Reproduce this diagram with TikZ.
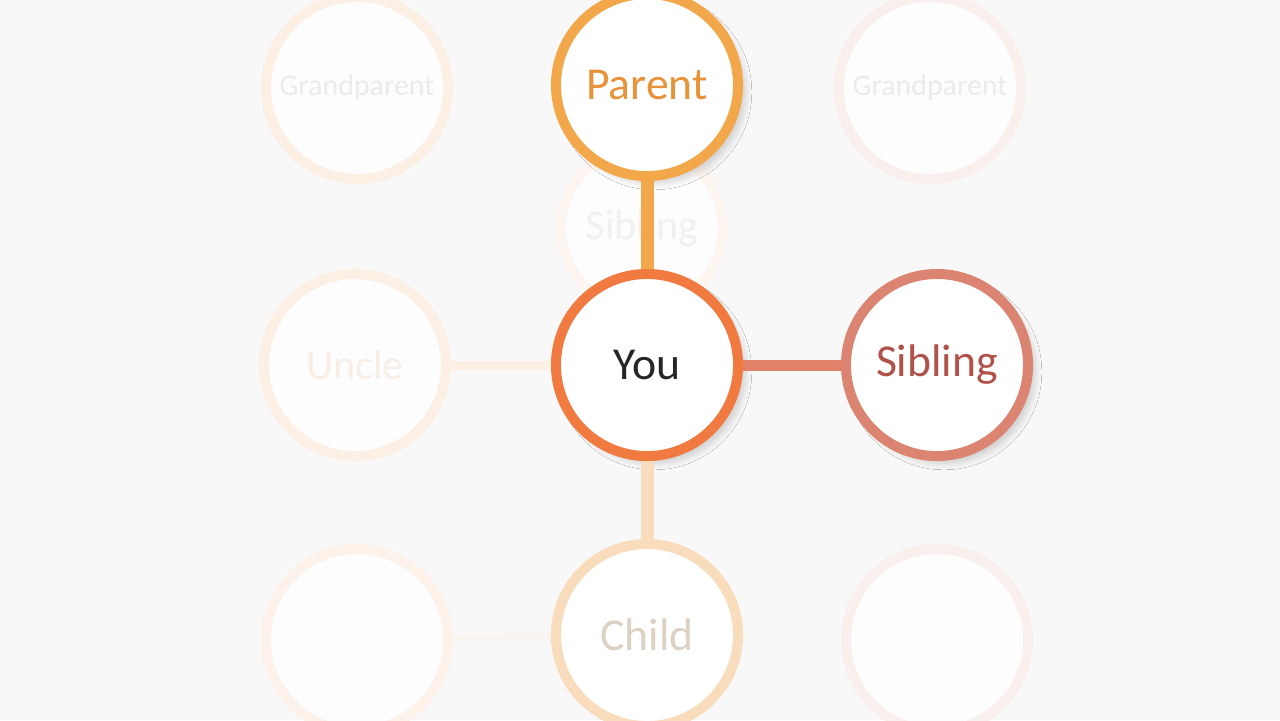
\documentclass[tikz,border=0pt]{standalone}
\usepackage{fontspec}
\setmainfont{Carlito}
\usepackage{xcolor}
\usetikzlibrary{shadows.blur}
\definecolor{canvas}{HTML}{F8F8F8}
\definecolor{parentline}{HTML}{F2A84A}
\definecolor{parenttext}{HTML}{E8923A}
\definecolor{youline}{HTML}{F07A40}
\definecolor{siblingline}{HTML}{DC8472}
\definecolor{siblingtext}{HTML}{B0524A}
\definecolor{childline}{HTML}{F8DCBC}
\definecolor{childtext}{HTML}{DDD1C4}
\definecolor{ghostline}{HTML}{FCEFE4}
\definecolor{ghostpink}{HTML}{F9F0EE}
\definecolor{ghosttext}{HTML}{ECEBEA}
\tikzset{
	member/.style={circle,draw,fill=white,line width=0.1cm,minimum size=1.82cm,inner sep=0pt,font=\fontsize{13}{15}\selectfont},%
	shadowed/.style={blur shadow={shadow xshift=0.07cm,shadow yshift=-0.07cm,shadow blur steps=10,shadow opacity=18}},%
	ghost/.style={member,fill=white!70!canvas,font=\fontsize{8.5}{10}\selectfont,text=ghosttext},%
	link/.style={line width=0.13cm},%
}

\begin{document}
\begin{tikzpicture}[x=0.01cm,y=-0.01cm]
	\fill[canvas] (0,0) rectangle (1280,720);
	\useasboundingbox (0,0) rectangle (1280,720);
	% faded relatives
	\node[ghost,draw=ghostline] (grandleft) at (357,88) {Grandparent};
	\node[ghost,draw=ghostpink] (grandright) at (930,88) {Grandparent};
	\node[ghost,draw=ghostline!60!white,minimum size=1.62cm,font=\fontsize{12}{14}\selectfont,text=ghosttext!70!white] (ghostsib) at (642,228) {Sibling};
	\node[ghost,draw=ghostline,font=\fontsize{12}{14}\selectfont,text=ghostline!70!ghosttext] (uncle) at (355,365) {Uncle};
	\node[ghost,draw=ghostline!80!white] (lowleft) at (357,640) {};
	\node[ghost,draw=ghostpink] (lowright) at (937,640) {};
	% family
	\node[member,shadowed,draw=parentline,text=parenttext] (parent) at (647,85) {Parent};
	\node[member,shadowed,draw=youline,text=black!85] (you) at (647,365) {You};
	\node[member,shadowed,draw=siblingline,text=siblingtext] (sibling) at (937,365) {Sibling};
	\node[member,draw=childline,text=childtext] (child) at (647,635) {Child};
	% connectors
	\draw[link,parentline] (parent) -- (you);
	\draw[link,siblingline!80!youline,line width=0.11cm] (you) -- (sibling);
	\draw[link,childline] (you) -- (child);
	\draw[link,ghostline,line width=0.09cm] (uncle) -- (you);
	\draw[link,ghostline!40!canvas,line width=0.07cm] (lowleft) -- (child);
\end{tikzpicture}
\end{document}
